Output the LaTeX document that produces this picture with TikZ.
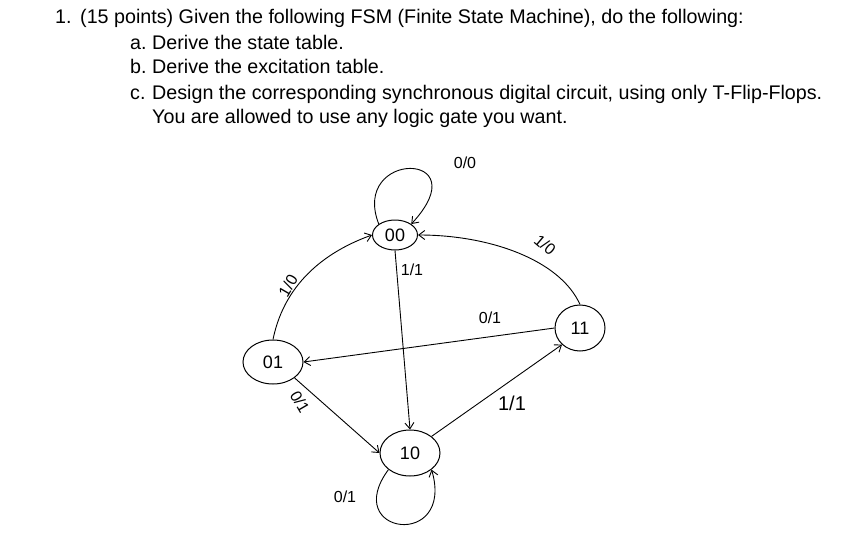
\documentclass[tikz,border=0pt]{standalone}
\usepackage{fontspec}
\setmainfont{Liberation Sans}
\usetikzlibrary{arrows.meta,shapes.geometric}
\begin{document}
\begin{tikzpicture}[x=1pt,y=-1pt,
  txt/.style={anchor=base west,inner sep=0,font=\fontsize{19.7}{22}\selectfont},
  st/.style={draw,ellipse,line width=1pt,inner sep=0,font=\fontsize{18}{20}\selectfont},
  tr/.style={line width=0.9pt,-{Straight Barb[length=6pt,width=9pt]}},
  lb/.style={font=\fontsize{16}{17}\selectfont,inner sep=0pt}]
\useasboundingbox (0,0) rectangle (864,551);
\node[txt] (t0) at (55,24) {1.};
\node[txt] (t1) at (80,24) {(15 points) Given the following FSM (Finite State Machine), do the following:};
\node[txt] (ta) at (130,49) {a.};
\node[txt] (tat) at (152,49) {Derive the state table.};
\node[txt] (tb) at (130,74) {b.};
\node[txt] (tbt) at (152,74) {Derive the excitation table.};
\node[txt] (tc) at (130,99) {c.};
\node[txt] (tct) at (152,99) {Design the corresponding synchronous digital circuit, using only T-Flip-Flops.};
\node[txt] (tdt) at (152,123) {You are allowed to use any logic gate you want.};
\node[st,minimum width=45,minimum height=30] (s00) at (395,235) {00};
\node[st,minimum width=60,minimum height=44] (s01) at (273,362) {01};
\node[st,minimum width=50,minimum height=46] (s11) at (580,328) {11};
\node[st,minimum width=60,minimum height=46] (s10) at (410,453) {10};
\draw[tr] (s00.north west) .. controls (350,150) and (480,150) .. (s00.north east);
\draw[tr] (s01.north) .. controls (285,280) and (330,250) .. (s00.west);
\draw[tr] (s11.north) .. controls (560,260) and (490,235) .. (s00.east);
\draw[tr] (s00.south) -- (s10.north);
\draw[tr] (s11.west) -- (s01.east);
\draw[tr] (s01.south east) -- (s10.west);
\draw[tr] (s10.north east) -- (s11.south west);
\draw[tr] (s10.south west) .. controls (340,535) and (455,550) .. (s10.south east);
\node[lb] (l1) at (465,163) {0/0};
\node[lb] (l2) at (412,270) {1/1};
\node[lb,rotate=-40] (l3) at (545,245) {1/0};
\node[lb,rotate=60] (l4) at (288,286) {1/0};
\node[lb] (l5) at (490,318) {0/1};
\node[lb,rotate=-60] (l6) at (300,402) {0/1};
\node[lb,font=\fontsize{20}{22}\selectfont] (l7) at (512,403) {1/1};
\node[lb] (l8) at (345,497) {0/1};
\end{tikzpicture}
\end{document}
